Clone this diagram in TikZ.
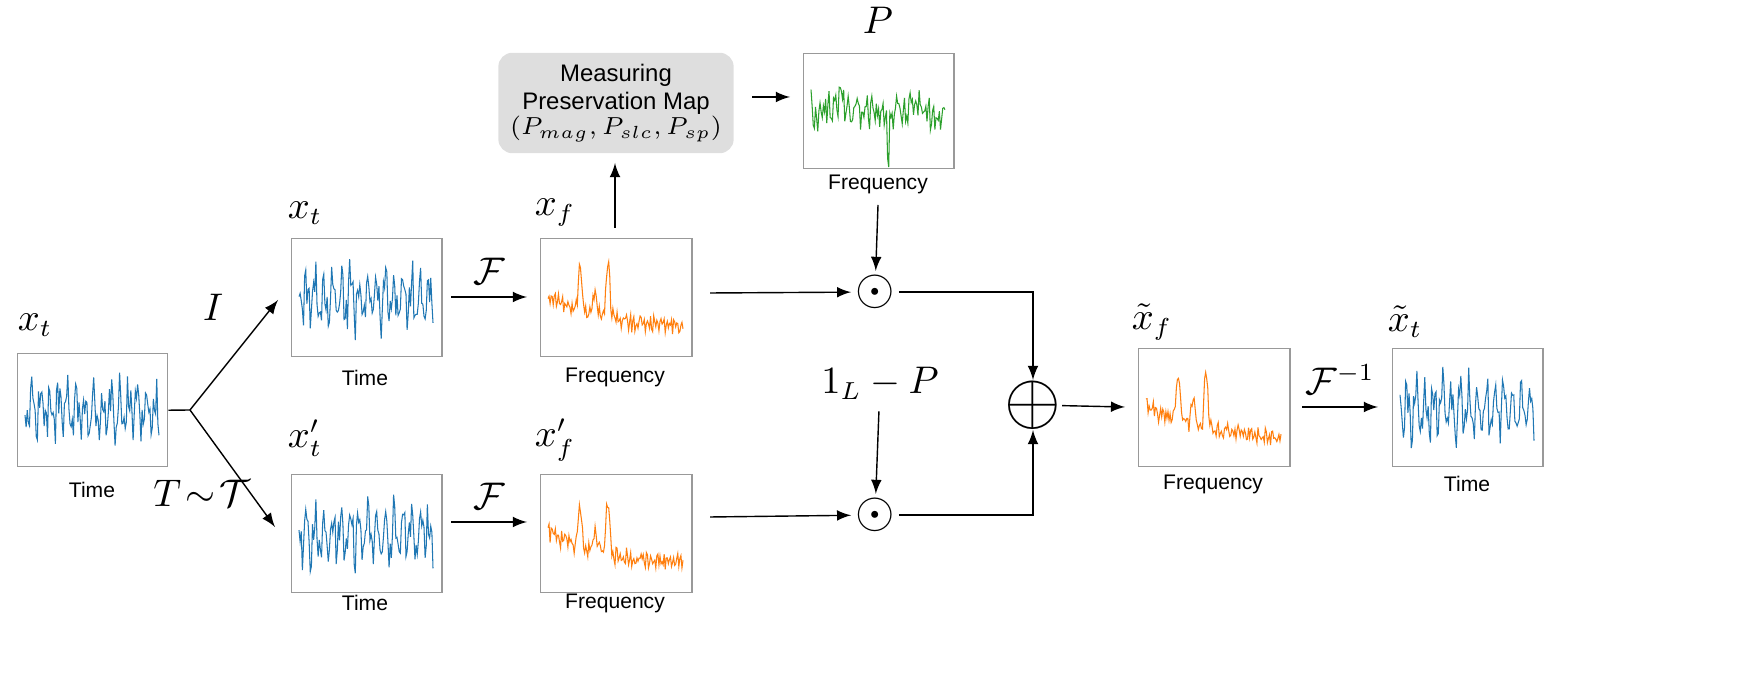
\documentclass[tikz,border=0pt]{standalone}
\usepackage{fontspec}
\setmainfont{Liberation Sans}
\begin{document}
\begin{tikzpicture}[x=0.01cm,y=-0.01cm,
 sbox/.style={draw=black!40,line width=0.4pt,fill=white,inner sep=0,anchor=north west,minimum width=1.5cm,minimum height=1.18cm},
 lbl/.style={font=\fontsize{6}{7}\selectfont},
 ml/.style={font=\fontsize{10.5}{12}\selectfont},
 arr/.style={-latex,line width=0.4pt},
 ln/.style={line width=0.4pt}]
\useasboundingbox (0,0) rectangle (1752,689);
\definecolor{sigb}{RGB}{31,119,180}
\definecolor{sigo}{RGB}{255,127,14}
\definecolor{sigg}{RGB}{44,160,44}
\newcommand{\tsig}[3]{% x0 y0 seed
 \pgfmathsetseed{#3}
 \draw[sigb,line width=0.3pt] plot[domain=8:142,samples=120,variable=\t] ({#1+\t},{#2+60+20*sin(\t*41)+12*sin(\t*97)+14*rand});}
\newcommand{\fsig}[4]{% x0 y0 seed color
 \pgfmathsetseed{#3}
 \draw[#4,line width=0.3pt] plot[domain=8:143,samples=130,variable=\t] ({#1+\t},{#2+105-35*exp(-(\t-8)/60)-12*abs(rand)-45*exp(-((\t-40)/2.5)^2)-55*exp(-((\t-68)/2.5)^2)-20*exp(-((\t-55)/3)^2)-10*abs(sin(\t*53))});}
% boxes
\node[sbox,minimum height=1.13cm] (in) at (17,353) {};
\tsig{17}{350}{3}
\node[lbl] at (92,490) {Time};
\node[ml] at (35,325) {$x_t$};
\node[sbox] (xt) at (291,238) {};
\tsig{291}{238}{5}
\node[lbl] at (365,378) {Time};
\node[ml] at (305,213) {$x_t$};
\node[sbox] (xtp) at (291,474) {};
\tsig{291}{474}{9}
\node[lbl] at (365,603) {Time};
\node[ml] at (305,438) {$x_t'$};
\node[sbox,minimum width=1.51cm] (xf) at (540,238) {};
\fsig{540}{238}{11}{sigo}
\node[lbl] at (615,377) {Frequency};
\node[ml] at (555,213) {$x_f$};
\node[sbox,minimum width=1.51cm] (xfp) at (540,474) {};
\fsig{540}{474}{17}{sigo}
\node[lbl] at (615,603) {Frequency};
\node[ml] at (555,440) {$x_f'$};
\node[sbox,minimum height=1.15cm] (P) at (803,53) {};
\pgfmathsetseed{21}
\draw[sigg,line width=0.3pt] plot[domain=8:142,samples=120,variable=\t] ({803+\t},{110+16*rand+8*sin(\t*77)-40*exp(-((\t-38)/2)^2)+40*exp(-((\t-85)/2)^2)});
\node[lbl] at (878,184) {Frequency};
\node[ml] at (878,20) {$P$};
\node[sbox,minimum width=1.51cm] (xft) at (1138,348) {};
\fsig{1138}{348}{29}{sigo}
\node[lbl] at (1213,484) {Frequency};
\node[ml] at (1152,322) {$\tilde{x}_f$};
\node[sbox] (xtt) at (1392,348) {};
\tsig{1392}{348}{31}
\node[lbl] at (1467,484) {Time};
\node[ml] at (1405,322) {$\tilde{x}_t$};
% measuring box
\node[fill=black!13,rounded corners=0.14cm,minimum width=2.33cm,minimum height=1cm,align=center,font=\fontsize{6.8}{8}\selectfont] (M) at (616,103) {Measuring\\Preservation Map\\[-1pt]$(P_{mag},P_{slc},P_{sp})$};
% operators
\node[font=\fontsize{15}{16}\selectfont,inner sep=1] (o1) at (875,292) {$\odot$};
\node[font=\fontsize{15}{16}\selectfont,inner sep=1] (o2) at (875,515) {$\odot$};
\node[font=\fontsize{20}{22}\selectfont,inner sep=0] (op) at (1033,405) {$\oplus$};
\node[ml] (oneL) at (880,383) {$1_L-P$};
% arrows
\coordinate (br) at (190,410);
\draw[ln] (in.east) -- (br);
\draw[arr] (br) -- (278,300); \draw[arr] (br) -- (275,527);
\node[ml] at (213,307) {$I$};
\node[ml] at (202,493) {$T\!\sim\!\mathcal{T}$};
\draw[arr] (451,297) -- (527,297) node[midway,above,ml] {$\mathcal{F}$};
\draw[arr] (451,522) -- (527,522) node[midway,above,ml] {$\mathcal{F}$};
\draw[arr] (710,293) -- (o1);
\draw[arr] (710,517) -- (o2);
\draw[arr] (615,228) -- (615,163);
\draw[arr] (752,97) -- (790,97);
\draw[arr] (878,205) -- (o1);
\draw[arr] (oneL) -- (o2);
\draw[arr] (o1) -| (op);
\draw[arr] (o2) -| (op);
\draw[arr] (op) -- (1125,407);
\draw[arr] (1302,407) -- (1378,407) node[midway,above,ml] {$\mathcal{F}^{-1}$};
\end{tikzpicture}
\end{document}
